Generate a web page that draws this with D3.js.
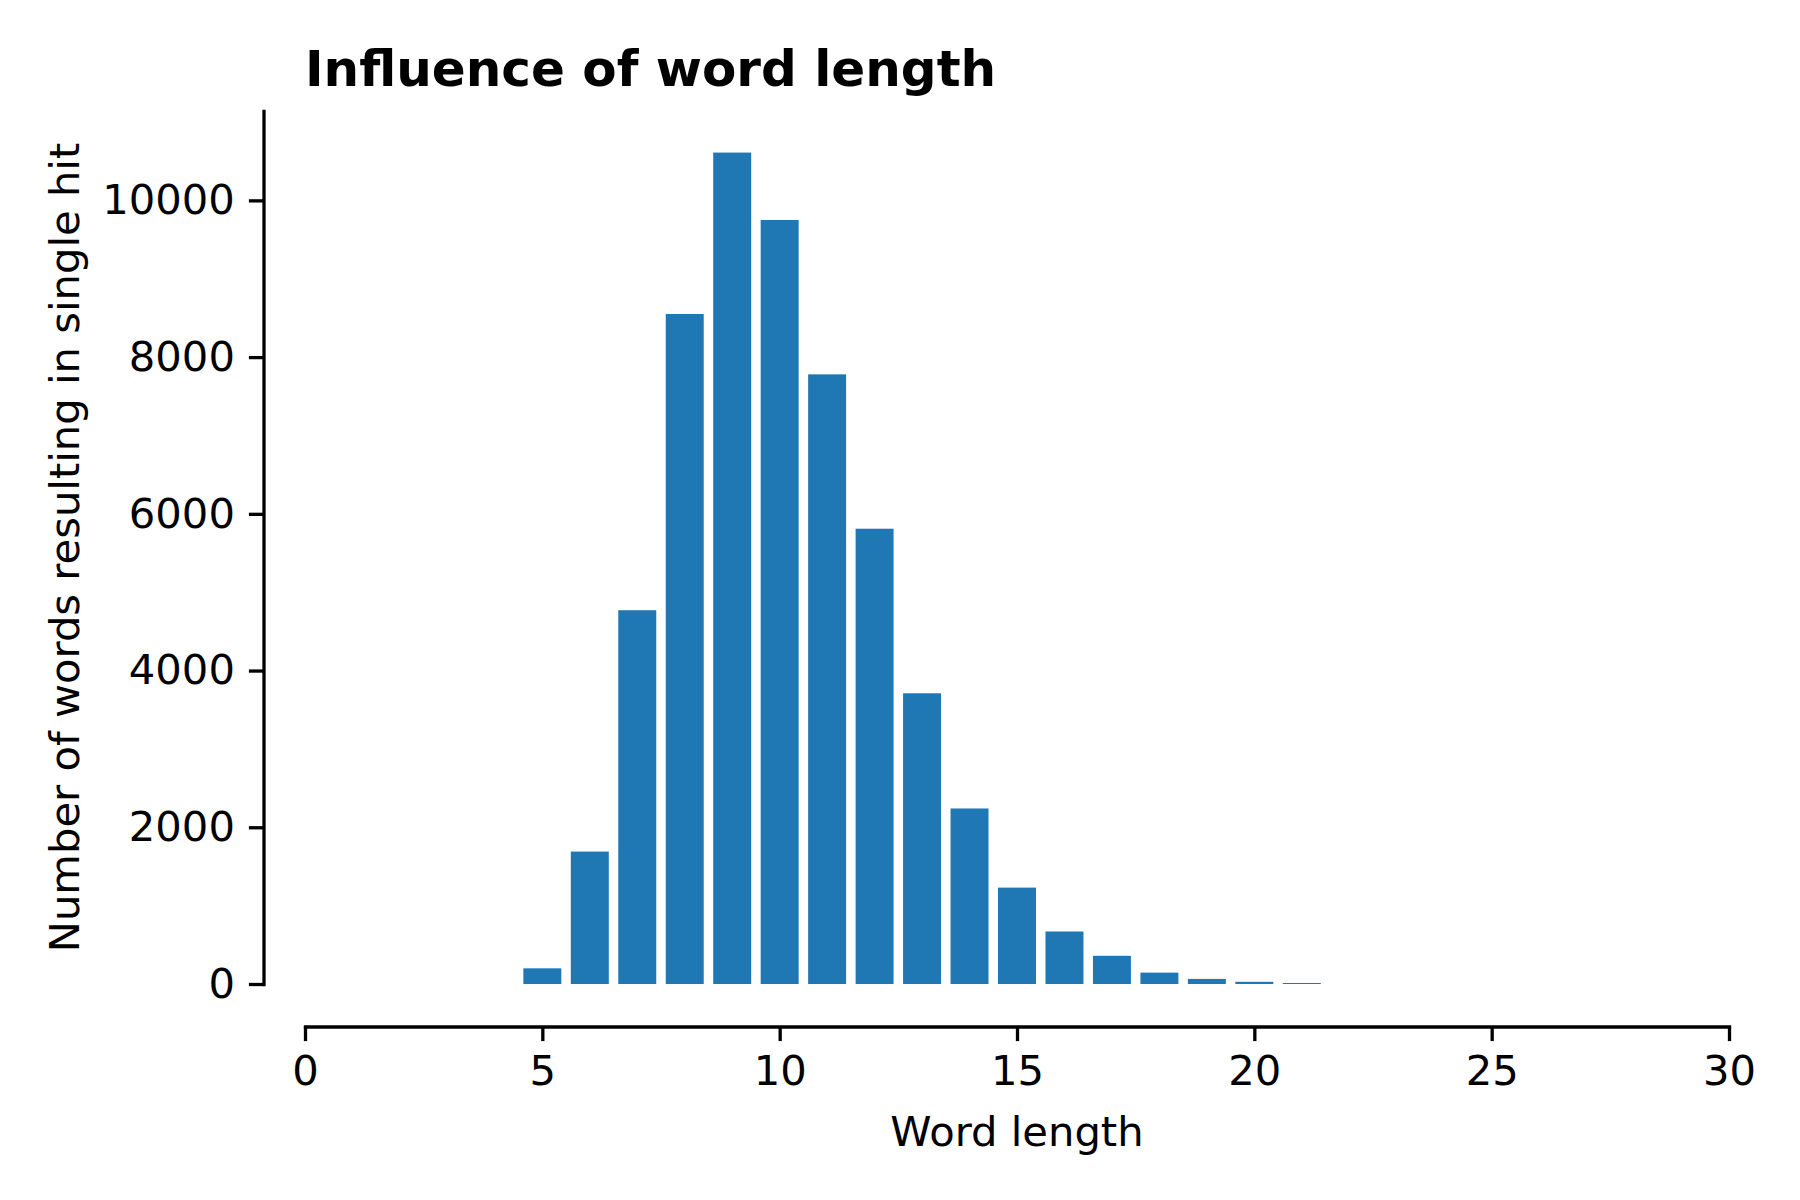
<!DOCTYPE html>
<html>
<head>
<meta charset="utf-8">
<script src="https://cdn.jsdelivr.net/npm/d3@7"></script>
<style>
  body { margin: 0; background: #fff; }
  svg text { font-family: "DejaVu Sans", sans-serif; fill: #000; }
</style>
</head>
<body>
<div id="chart"></div>
<script>
// values
const wordLengths = [5, 6, 7, 8, 9, 10, 11, 12, 13, 14, 15, 16, 17, 18, 19, 20, 21];
const wordCounts = [200, 1690, 4770, 8550, 10610, 9750, 7780, 5810, 3710, 2240, 1230, 670, 360, 145, 65, 28, 13];
const xTicks = [0, 5, 10, 15, 20, 25, 30];
const yTicks = [0, 2000, 4000, 6000, 8000, 10000];

const width = 1800, height = 1200;
// axes box (pixels), matplotlib style with despined offset axes
const axLeft = 305, axRight = 1729, axTop = 111, axBottom = 984;
const offset = 42;   // spine offset
const lw = 3.3;      // spine / tick width
const tickLen = 14.6;

const svg = d3.select("div#chart").append("svg")
    .attr("width", width)
    .attr("height", height)
    .style("background-color", "#fff");

const x = d3.scaleLinear().domain([0, 30]).range([axLeft, axRight]);
const y = d3.scaleLinear().domain([0, d3.max(wordCounts) * 1.05]).range([axBottom, axTop]);

// bars
svg.append("g")
    .selectAll("rect")
    .data(wordLengths)
    .enter()
    .append("rect")
    .attr("x", function (d) { return x(d - 0.4); })
    .attr("width", function (d) { return x(d + 0.4) - x(d - 0.4); })
    .attr("y", function (d, i) { return y(wordCounts[i]); })
    .attr("height", function (d, i) { return y(0) - y(wordCounts[i]); })
    .attr("fill", "#1f77b4");

// x axis
const xAxis = svg.append("g")
    .attr("transform", "translate(0," + (axBottom + offset + 0.5) + ")")
    .call(d3.axisBottom(x).tickValues(xTicks).tickFormat(d3.format("d"))
        .tickSizeInner(tickLen).tickSizeOuter(0).tickPadding(14));

// y axis
const yAxis = svg.append("g")
    .attr("transform", "translate(" + (axLeft - offset + 0.5) + ",0)")
    .call(d3.axisLeft(y).tickValues(yTicks).tickFormat(d3.format("d"))
        .tickSizeInner(tickLen).tickSizeOuter(0).tickPadding(14));

[xAxis, yAxis].forEach(function (g) {
    g.select(".domain").attr("stroke", "#000").attr("stroke-width", lw).attr("stroke-linecap", "square");
    g.selectAll(".tick line").attr("stroke", "#000").attr("stroke-width", lw);
    g.selectAll(".tick text")
        .style("font-family", "DejaVu Sans")
        .style("font-size", "41.7px")
        .attr("fill", "#000");
});

// title
svg.append("text")
    .attr("x", axLeft)
    .attr("y", 86)
    .style("font-size", "50px")
    .style("font-weight", "bold")
    .text("Influence of word length");

// axis labels
svg.append("text")
    .attr("x", (axLeft + axRight) / 2)
    .attr("y", 1146)
    .attr("text-anchor", "middle")
    .style("font-size", "41.7px")
    .text("Word length");

svg.append("text")
    .attr("transform", "translate(79," + ((axTop + axBottom) / 2) + ") rotate(-90)")
    .attr("text-anchor", "middle")
    .style("font-size", "41.7px")
    .text("Number of words resulting in single hit");
</script>
</body>
</html>
